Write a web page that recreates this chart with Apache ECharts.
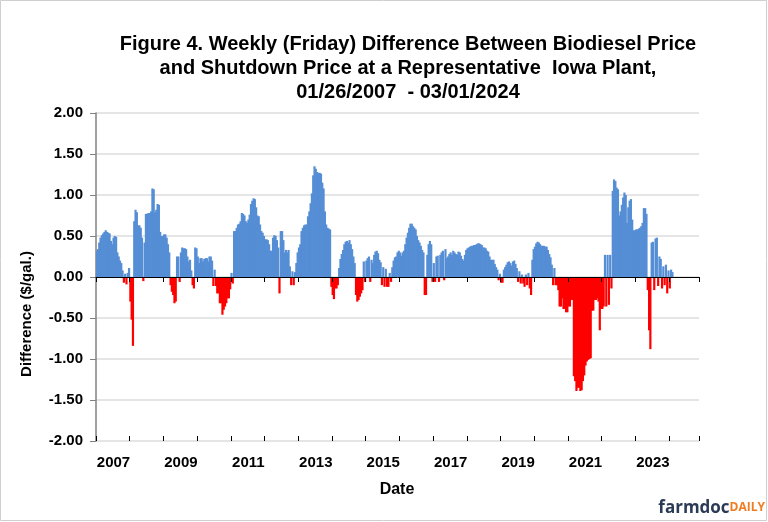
<!DOCTYPE html>
<html>
<head>
<meta charset="utf-8">
<script src="https://cdn.jsdelivr.net/npm/echarts@6/dist/echarts.min.js"></script>
<style>
html,body{margin:0;padding:0;background:#fff;}
#chart{width:768px;height:522px;}
</style>
</head>
<body>
<div id="chart"></div>
<script>
// Bi-weekly (every other Friday) samples starting 01/26/2007, $/gal.
const startDate = '2007-01-26';
const stepDays = 14;
const axisSlots = 465; // axis runs a little past the last observation
const values = [
 0.32,0.34,0.42,0.48,0.51,0.53,0.55,0.57,0.55,0.54,0.53,0.44,0.40,0.48,0.50,0.49,0.30,0.25,0.20,0.17,
 0.08,-0.07,0.04,-0.09,0.05,0.11,-0.30,-0.52,-0.84,0.68,0.82,0.79,0.63,0.63,0.60,0.48,-0.05,0.42,0.77,0.77,
 0.78,0.78,0.80,1.08,1.07,0.79,0.82,0.89,0.88,0.55,0.50,0.50,0.52,0.52,0.48,0.40,0.30,-0.10,-0.18,-0.22,
 -0.32,-0.30,0.25,0.25,-0.06,0.30,0.36,0.35,0.35,0.34,0.25,0.19,0.21,0.08,-0.10,-0.14,0.36,0.35,0.25,0.17,
 0.23,0.23,0.19,0.22,0.23,0.23,0.19,0.25,0.25,0.20,-0.11,0.09,-0.11,-0.20,-0.20,-0.32,-0.32,-0.46,-0.40,-0.36,
 -0.32,-0.26,-0.26,-0.15,0.05,-0.08,0.56,0.56,0.60,0.64,0.65,0.68,0.78,0.77,0.75,0.68,0.66,0.70,0.76,0.89,
 0.93,0.96,0.95,0.85,0.75,0.74,0.64,0.56,0.54,0.50,0.46,0.46,0.45,0.40,0.32,0.32,0.48,0.51,0.50,0.45,
 0.36,-0.20,0.56,0.56,0.45,0.30,0.33,0.30,0.33,
 0.13,-0.10,0.07,-0.10,0.06,0.17,0.30,0.36,0.40,0.56,0.60,0.63,0.64,0.64,0.74,0.80,0.90,1.02,1.24,1.35,
 1.32,1.28,1.27,1.27,1.26,1.15,1.08,0.80,0.64,0.60,0.59,0.58,-0.12,-0.22,-0.27,-0.14,-0.14,-0.10,0.11,0.22,
 0.28,0.33,0.40,0.43,0.44,0.42,0.45,0.40,0.34,0.25,0.17,-0.22,-0.30,-0.28,-0.24,-0.20,-0.16,0.19,-0.06,0.20,
 0.23,0.25,-0.06,0.21,0.17,0.27,0.31,0.32,0.29,0.21,0.18,-0.10,0.12,-0.12,0.10,-0.12,-0.12,0.05,-0.06,0.12,
 0.20,0.24,0.25,0.30,0.32,0.30,0.26,0.30,0.32,0.40,0.48,0.54,0.60,0.65,0.65,0.62,0.60,0.58,0.50,0.45,
 0.42,0.38,0.33,0.30,-0.22,-0.22,0.27,0.40,0.44,0.40,-0.06,0.17,-0.06,0.25,0.26,-0.06,0.27,0.30,0.32,-0.04,
 0.34,0.23,0.25,0.28,0.30,0.27,0.32,0.30,0.28,0.27,0.31,0.30,0.26,0.22,0.20,0.27,0.33,0.35,0.36,0.37,
 0.38,0.38,0.39,0.39,0.40,0.41,0.41,
 0.40,0.39,0.36,0.36,0.35,0.32,0.31,0.25,0.21,0.21,0.21,0.16,0.12,0.09,-0.04,0.04,-0.07,-0.07,0.09,0.12,
 0.15,0.18,0.19,0.17,0.14,0.19,0.20,0.16,0.11,-0.06,0.07,-0.08,0.03,-0.08,-0.12,0.03,-0.10,0.05,-0.14,-0.22,
 0.21,0.34,0.37,0.41,0.43,0.42,0.40,0.38,0.38,0.38,0.37,0.37,0.33,0.28,0.24,0.15,-0.10,0.11,-0.10,-0.10,
 -0.16,-0.36,-0.36,-0.26,-0.39,-0.39,-0.43,-0.43,-0.36,-0.36,-0.28,-0.28,-1.21,-1.27,-1.39,-1.35,-1.35,-1.39,-1.38,-1.27,
 -1.20,-1.08,-1.03,-1.01,-1.00,-0.99,-0.41,-0.41,-0.28,-0.28,-0.26,-0.30,-0.65,-0.39,-0.39,-0.36,0.27,-0.36,0.27,-0.34,
 0.27,-0.14,1.05,1.19,1.17,1.09,1.07,0.75,0.80,0.88,0.97,1.03,1.00,0.66,0.85,0.93,0.95,0.70,0.57,0.57,
 0.58,0.58,0.59,0.60,0.62,0.66,0.84,0.84,0.77,-0.16,-0.65,-0.88,0.42,0.43,-0.16,0.47,0.48,-0.11,0.25,0.22,
 -0.14,0.13,-0.10,0.15,-0.20,0.08,-0.14,0.09,0.06
];
const yTicks = [-2, 2, 0.5]; // min, max, interval

const categories = [];
{
  const d0 = new Date(startDate + 'T00:00:00Z');
  for (let i = 0; i < axisSlots; i++) {
    const d = new Date(d0.getTime() + i * stepDays * 86400000);
    categories.push(d.toISOString().slice(0, 10));
  }
}

const BLUE = '#558ED5', RED = '#FF0000';
const FONT = '"Liberation Sans", Arial, sans-serif';

const chart = echarts.init(document.getElementById('chart'), null, {renderer: 'canvas'});
chart.setOption({
  animation: false,
  backgroundColor: '#fff',
  title: {
    text: 'Figure 4. Weekly (Friday) Difference Between Biodiesel Price\nand Shutdown Price at a Representative  Iowa Plant,\n01/26/2007  - 03/01/2024',
    left: 408, top: 32, textAlign: 'center', padding: 0,
    textStyle: {fontFamily: FONT, fontWeight: 'bold', fontSize: 20, lineHeight: 24, color: '#000'}
  },
  grid: {left: 96, right: 69, top: 113, bottom: 81, containLabel: false},
  xAxis: [
    {
      type: 'category', data: categories, position: 'bottom', boundaryGap: true, z: 5,
      axisLine: {onZero: true, lineStyle: {color: '#000', width: 1}},
      axisTick: {show: true, length: 5, lineStyle: {color: '#000'}, interval: (i) => i % 26 === 0},
      axisLabel: {show: false},
      splitLine: {show: false}
    },
    {
      type: 'category', data: categories, position: 'bottom', boundaryGap: true, z: 5,
      axisLine: {onZero: true, show: false},
      axisTick: {show: true, inside: true, length: 5, lineStyle: {color: '#000'}, interval: (i) => i % 26 === 0},
      axisLabel: {show: false},
      splitLine: {show: false}
    },
    {
      type: 'category', data: categories, position: 'bottom', boundaryGap: true,
      axisLine: {onZero: false, show: false},
      axisTick: {show: false},
      axisLabel: {
        show: true, margin: 14, interval: (i) => i % 52 === 13,
        formatter: (v) => v.slice(0, 4),
        fontFamily: FONT, fontWeight: 'bold', fontSize: 15, color: '#000'
      },
      splitLine: {show: false}
    }
  ],
  yAxis: {
    type: 'value', min: yTicks[0], max: yTicks[1], interval: yTicks[2],
    axisLine: {show: true, lineStyle: {color: '#808080', width: 1.5}},
    axisTick: {show: true, length: 6, lineStyle: {color: '#808080'}},
    axisLabel: {formatter: (v) => v.toFixed(2), margin: 13, fontFamily: FONT, fontWeight: 'bold', fontSize: 15, color: '#000'},
    splitLine: {show: true, lineStyle: {color: '#DCDCDC', width: 1.5}}
  },
  series: [{
    type: 'bar', xAxisIndex: 0, data: values, barWidth: 2.2, barGap: '0%',
    itemStyle: {color: (p) => (p.value >= 0 ? BLUE : RED)},
    emphasis: {disabled: true}
  }],
  graphic: [
    {type: 'rect', shape: {x: 0.5, y: 0.5, width: 766, height: 520}, style: {fill: 'none', stroke: '#CFCFCF', lineWidth: 1}, silent: true},
    {type: 'text', x: 397, y: 490, style: {text: 'Date', fontFamily: FONT, fontWeight: 'bold', fontSize: 16, fill: '#000', align: 'center', verticalAlign: 'middle'}},
    {type: 'text', x: 27, y: 314, rotation: Math.PI / 2, style: {text: 'Difference ($/gal.)', fontFamily: FONT, fontWeight: 'bold', fontSize: 15, fill: '#000', align: 'center', verticalAlign: 'middle'}},
    {type: 'text', x: 765, y: 508, style: {
      text: '{a|farmdoc}{b|DAILY}', align: 'right', verticalAlign: 'middle',
      rich: {
        a: {fontFamily: '"Open Sans", sans-serif', fontWeight: 'bold', fontSize: 17, fill: '#2B3A55'},
        b: {fontFamily: '"Open Sans", sans-serif', fontWeight: 'bold', fontSize: 12, fill: '#F07C22'}
      }
    }}
  ]
});
</script>
</body>
</html>
